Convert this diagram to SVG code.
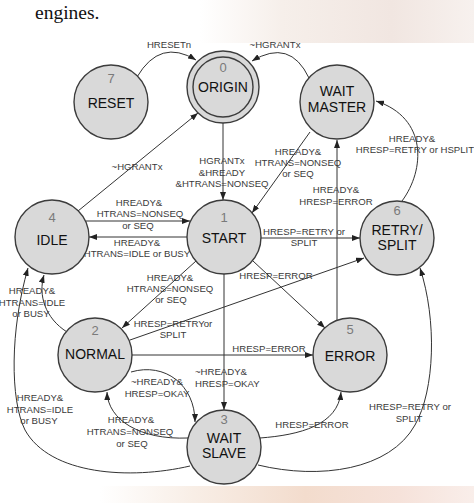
<svg xmlns="http://www.w3.org/2000/svg" width="474" height="503" viewBox="0 0 474 503">
<style>
.node{fill:#d9d9d9;stroke:#3c3c3c;stroke-width:1.4}
.num{font-family:"Liberation Sans",Arial,sans-serif;font-size:13px;fill:#7a7a7a;text-anchor:middle}
.name{font-family:"Liberation Sans",Arial,sans-serif;font-size:14px;fill:#111;text-anchor:middle}
.lbl{font-family:"Liberation Sans",Arial,sans-serif;font-size:9.6px;fill:#3a3a3a;text-anchor:middle}
.e{fill:none;stroke:#333;stroke-width:1;marker-end:url(#arr)}
</style>
<defs>
<marker id="arr" markerUnits="userSpaceOnUse" markerWidth="8" markerHeight="6" refX="8" refY="3" orient="auto">
<path d="M0,0 L8,3 L0,6 z" fill="#222"/>
</marker>
<linearGradient id="topg" x1="0" y1="0" x2="1" y2="0">
<stop offset="0" stop-color="#ffffff"/>
<stop offset="0.3" stop-color="#f6efea"/>
<stop offset="0.7" stop-color="#f1e6e1"/>
<stop offset="1" stop-color="#f7f1ee"/>
</linearGradient>
<linearGradient id="botg" x1="0" y1="0" x2="1" y2="0">
<stop offset="0" stop-color="#ffffff"/>
<stop offset="0.25" stop-color="#f8eee6"/>
<stop offset="0.55" stop-color="#f3dccd"/>
<stop offset="0.8" stop-color="#f6e2da"/>
<stop offset="1" stop-color="#f9eeea"/>
</linearGradient>
</defs>
<rect x="0" y="0" width="474" height="503" fill="#ffffff"/>
<rect x="200" y="0" width="274" height="43" fill="url(#topg)"/>
<rect x="100" y="486" width="374" height="17" fill="url(#botg)"/>
<text x="35" y="19" font-family="'Liberation Serif','Times New Roman',serif" font-size="19.5px" fill="#111">engines.</text>

<g id="connectors">
<path class="e" d="M137,77 Q160,38 196,60"/>
<text class="lbl" x="169" y="48">HRESETn</text>
<path class="e" d="M309,78 Q290,38 252,61"/>
<text class="lbl" x="275" y="48">~HGRANTx</text>
<path class="e" d="M78,211 L198,113"/>
<text class="lbl" x="137" y="170">~HGRANTx</text>
<path class="e" d="M223,123 L223,200"/>
<text class="lbl" x="222" y="164">HGRANTx</text>
<text class="lbl" x="222" y="176">&amp;HREADY</text>
<text class="lbl" x="222" y="187">&amp;HTRANS=NONSEQ</text>
<path class="e" d="M310,132 L252,213"/>
<text class="lbl" x="298" y="155">HREADY&amp;</text>
<text class="lbl" x="298" y="166">HTRANS=NONSEQ</text>
<text class="lbl" x="298" y="177">or SEQ</text>
<path class="e" d="M337,320 L337,140"/>
<text class="lbl" x="336" y="193">HREADY&amp;</text>
<text class="lbl" x="336" y="205">HRESP=ERROR</text>
<path class="e" d="M402,201 C425,170 428,118 376,101"/>
<text class="lbl" x="412" y="142">HREADY&amp;</text>
<text class="lbl" x="415" y="153">HRESP=RETRY or HSPLIT</text>
<path class="e" d="M86,221 L190,221"/>
<text class="lbl" x="139" y="206">HREADY&amp;</text>
<text class="lbl" x="140" y="217">HTRANS=NONSEQ</text>
<text class="lbl" x="138" y="229">or SEQ</text>
<path class="e" d="M187,237 L89,237"/>
<text class="lbl" x="137" y="246">HREADY&amp;</text>
<text class="lbl" x="137" y="257">HTRANS=IDLE or BUSY</text>
<path class="e" d="M196,261 L122,328"/>
<text class="lbl" x="170" y="281">HREADY&amp;</text>
<text class="lbl" x="170" y="292">HTRANS=NONSEQ</text>
<text class="lbl" x="171" y="303">or SEQ</text>
<path class="e" d="M130,340 L364,258"/>
<text class="lbl" x="173" y="327">HRESP=RETRYor</text>
<text class="lbl" x="173" y="338">SPLIT</text>
<path class="e" d="M261,238 L360,238"/>
<text class="lbl" x="304" y="235">HRESP=RETRY or</text>
<text class="lbl" x="304" y="246">SPLIT</text>
<path class="e" d="M253,261 L325,328"/>
<text class="lbl" x="276" y="279">HRESP=ERROR</text>
<path class="e" d="M224,274 L224,410"/>
<text class="lbl" x="195" y="375" style="text-anchor:start">~HREADY&amp;</text>
<text class="lbl" x="195" y="387" style="text-anchor:start">HRESP=OKAY</text>
<path class="e" d="M132,355 L313,355"/>
<text class="lbl" x="269" y="352">HRESP=ERROR</text>
<path class="e" d="M131,372 C165,362 195,385 195,422"/>
<text class="lbl" x="157" y="385">~HREADY&amp;</text>
<text class="lbl" x="157" y="397">HRESP=OKAY</text>
<path class="e" d="M188,438 C140,440 108,420 107,392"/>
<text class="lbl" x="131" y="423">HREADY&amp;</text>
<text class="lbl" x="130" y="435">HTRANS=NONSEQ</text>
<text class="lbl" x="132" y="447">or SEQ</text>
<path class="e" d="M67,332 C45,318 38,295 44,275"/>
<text class="lbl" x="32" y="294">HREADY&amp;</text>
<text class="lbl" x="32" y="306">HTRANS=IDLE</text>
<text class="lbl" x="31" y="317">or BUSY</text>
<path class="e" d="M190,466 C130,480 50,475 25,430 C10,400 10,330 28,268"/>
<text class="lbl" x="40" y="401">HREADY&amp;</text>
<text class="lbl" x="40" y="413">HTRANS=IDLE</text>
<text class="lbl" x="39" y="424">or BUSY</text>
<path class="e" d="M260,438 C300,435 338,425 341,392"/>
<text class="lbl" x="312" y="428">HRESP=ERROR</text>
<path class="e" d="M258,465 C320,480 390,470 415,425 C435,390 437,320 420,268"/>
<text class="lbl" x="410" y="410">HRESP=RETRY or</text>
<text class="lbl" x="409" y="422">SPLIT</text>
</g>

<g id="node-reset">
<circle class="node" cx="111" cy="102" r="37"/>
<text class="num" x="111" y="83">7</text>
<text class="name" x="111" y="108">RESET</text>
</g>
<g id="node-origin">
<circle class="node" cx="223" cy="87" r="36"/>
<circle class="node" cx="223" cy="87" r="30"/>
<text class="num" x="223" y="72">0</text>
<text class="name" x="223" y="92">ORIGIN</text>
</g>
<g id="node-waitmaster">
<circle class="node" cx="337" cy="102" r="37"/>
<text class="name" x="337" y="96">WAIT</text>
<text class="name" x="337" y="112">MASTER</text>
</g>
<g id="node-idle">
<circle class="node" cx="52" cy="237" r="37"/>
<text class="num" x="52" y="222">4</text>
<text class="name" x="52" y="245">IDLE</text>
</g>
<g id="node-start">
<circle class="node" cx="224" cy="237" r="37"/>
<text class="num" x="224" y="222">1</text>
<text class="name" x="224" y="243">START</text>
</g>
<g id="node-retry">
<circle class="node" cx="397" cy="238" r="37"/>
<text class="num" x="397" y="215">6</text>
<text class="name" x="397" y="235">RETRY/</text>
<text class="name" x="397" y="250">SPLIT</text>
</g>
<g id="node-normal">
<circle class="node" cx="95" cy="355" r="37"/>
<text class="num" x="95" y="335">2</text>
<text class="name" x="95" y="359">NORMAL</text>
</g>
<g id="node-error">
<circle class="node" cx="350" cy="355" r="37"/>
<text class="num" x="350" y="334">5</text>
<text class="name" x="350" y="361">ERROR</text>
</g>
<g id="node-waitslave">
<circle class="node" cx="224" cy="447" r="37"/>
<text class="num" x="224" y="424">3</text>
<text class="name" x="224" y="443">WAIT</text>
<text class="name" x="224" y="458">SLAVE</text>
</g>
</svg>
